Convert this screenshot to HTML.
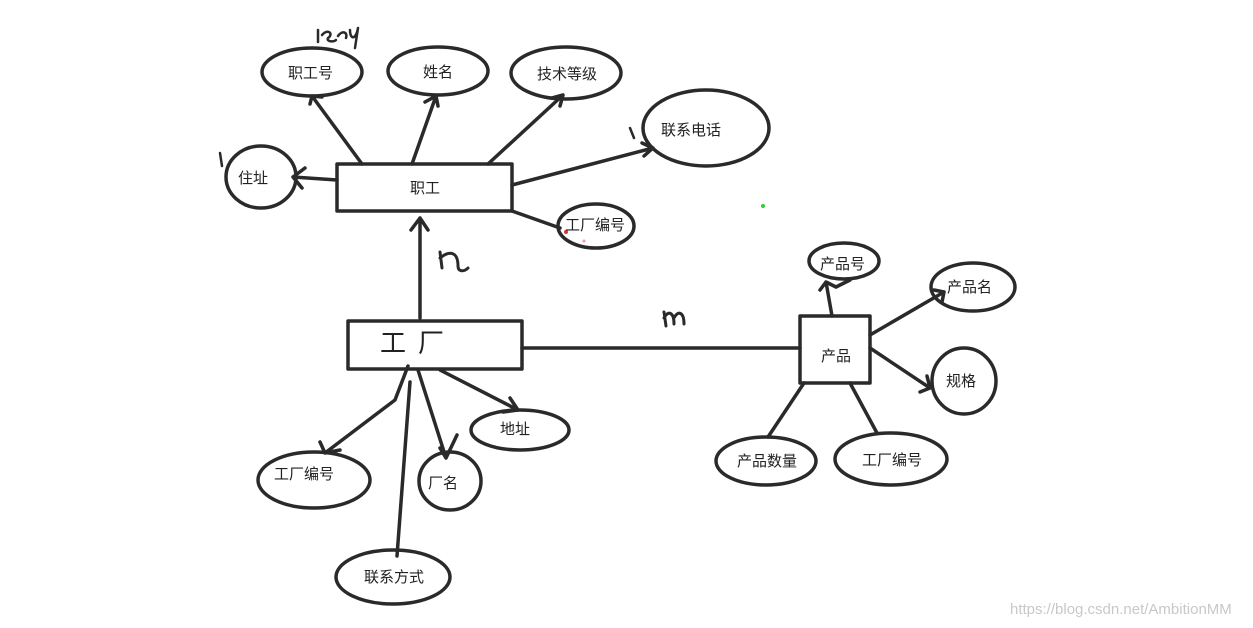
<!DOCTYPE html>
<html><head><meta charset="utf-8"><style>
body{margin:0;background:#fff;}
svg{display:block;}
text{font-family:"Liberation Sans","Noto Sans CJK SC",sans-serif;fill:#222;font-size:15px;}
</style></head><body>
<svg width="1253" height="628" viewBox="0 0 1253 628">
<g fill="none" stroke="#2a2a2a" stroke-width="3.5" stroke-linecap="round" stroke-linejoin="round">
<ellipse cx="312" cy="72" rx="50" ry="24"/>
<ellipse cx="438" cy="71" rx="50" ry="24"/>
<ellipse cx="566" cy="73" rx="55" ry="26"/>
<ellipse cx="706" cy="128" rx="63" ry="38"/>
<ellipse cx="261" cy="177" rx="35" ry="31"/>
<ellipse cx="596" cy="226" rx="38" ry="22"/>
<ellipse cx="520" cy="430" rx="49" ry="20"/>
<ellipse cx="314" cy="480" rx="56" ry="28"/>
<ellipse cx="450" cy="481" rx="31" ry="29"/>
<ellipse cx="393" cy="577" rx="57" ry="27"/>
<ellipse cx="844" cy="261" rx="35" ry="18"/>
<ellipse cx="973" cy="287" rx="42" ry="24"/>
<ellipse cx="964" cy="381" rx="32" ry="33"/>
<ellipse cx="766" cy="461" rx="50" ry="24"/>
<ellipse cx="891" cy="459" rx="56" ry="26"/>
<rect x="337" y="164" width="175" height="47"/>
<rect x="348" y="321" width="174" height="48"/>
<rect x="800" y="316" width="70" height="67"/>
<path d="M362 164 L312 96 M310 104 L312 96 L322 97"/>
<path d="M412 164 L436 96 M425 102 L436 96 L438 106"/>
<path d="M488 164 L563 95 M552 98 L563 95 L560 106"/>
<path d="M512 185 L653 148 M642 143 L653 148 L644 156"/>
<path d="M337 180 L293 177 M305 168 L293 177 L302 188"/>
<path d="M512 211 L560 228"/>
<path d="M420 318 L420 218 M411 230 L420 218 L428 230"/>
<path d="M522 348 L800 348"/>
<path d="M408 366 L395 400 L325 453 M320 442 L325 453 L340 450"/>
<path d="M410 382 L397 556"/>
<path d="M418 370 L446 458 M440 448 L446 458 L457 435"/>
<path d="M440 370 L518 410 M510 398 L518 410 L503 412"/>
<path d="M832 316 L826 282 M820 290 L826 282 L836 287 M836 287 L850 280"/>
<path d="M870 335 L944 292 M934 290 L944 292 L942 302"/>
<path d="M870 348 L930 388 M927 376 L930 388 L920 392"/>
<path d="M804 383 L768 437"/>
<path d="M850 383 L877 433"/>
<path d="M318 30 L318 42 M322 35 C328 28,334 34,328 38 C326 42,334 42,336 40 M338 36 C342 30,348 32,346 38 M350 30 C350 40,356 40,358 28 L355 48" stroke-width="2.5"/>
<path d="M220 153 L222 166 M630 128 L634 138" stroke-width="2.5"/>
<path d="M440 252 L442 268 M440 258 C450 250,458 252,458 266 C458 272,464 272,468 268" stroke-width="3"/>
<path d="M664 312 L666 326 M664 318 C668 310,674 312,674 324 M674 318 C678 310,684 312,684 324" stroke-width="3"/>
</g>
<circle cx="566" cy="232" r="2" fill="#d33"/>
<circle cx="584" cy="241" r="1.5" fill="#e9a"/>
<circle cx="763" cy="206" r="2" fill="#3c3"/>
<text x="288" y="78">职工号</text>
<text x="423" y="77">姓名</text>
<text x="537" y="79">技术等级</text>
<text x="661" y="135">联系电话</text>
<text x="238" y="183">住址</text>
<text x="565" y="230">工厂编号</text>
<text x="410" y="193">职工</text>
<text x="380" y="352" style="font-size:26px;letter-spacing:12px">工厂</text>
<text x="500" y="434">地址</text>
<text x="274" y="479">工厂编号</text>
<text x="428" y="488">厂名</text>
<text x="364" y="582">联系方式</text>
<text x="821" y="361">产品</text>
<text x="820" y="269">产品号</text>
<text x="947" y="292">产品名</text>
<text x="946" y="386">规格</text>
<text x="737" y="466">产品数量</text>
<text x="862" y="465">工厂编号</text>
<text x="1010" y="614" style="font-size:15px;fill:#c8c8c8">https://blog.csdn.net/AmbitionMM</text>
</svg>
</body></html>
